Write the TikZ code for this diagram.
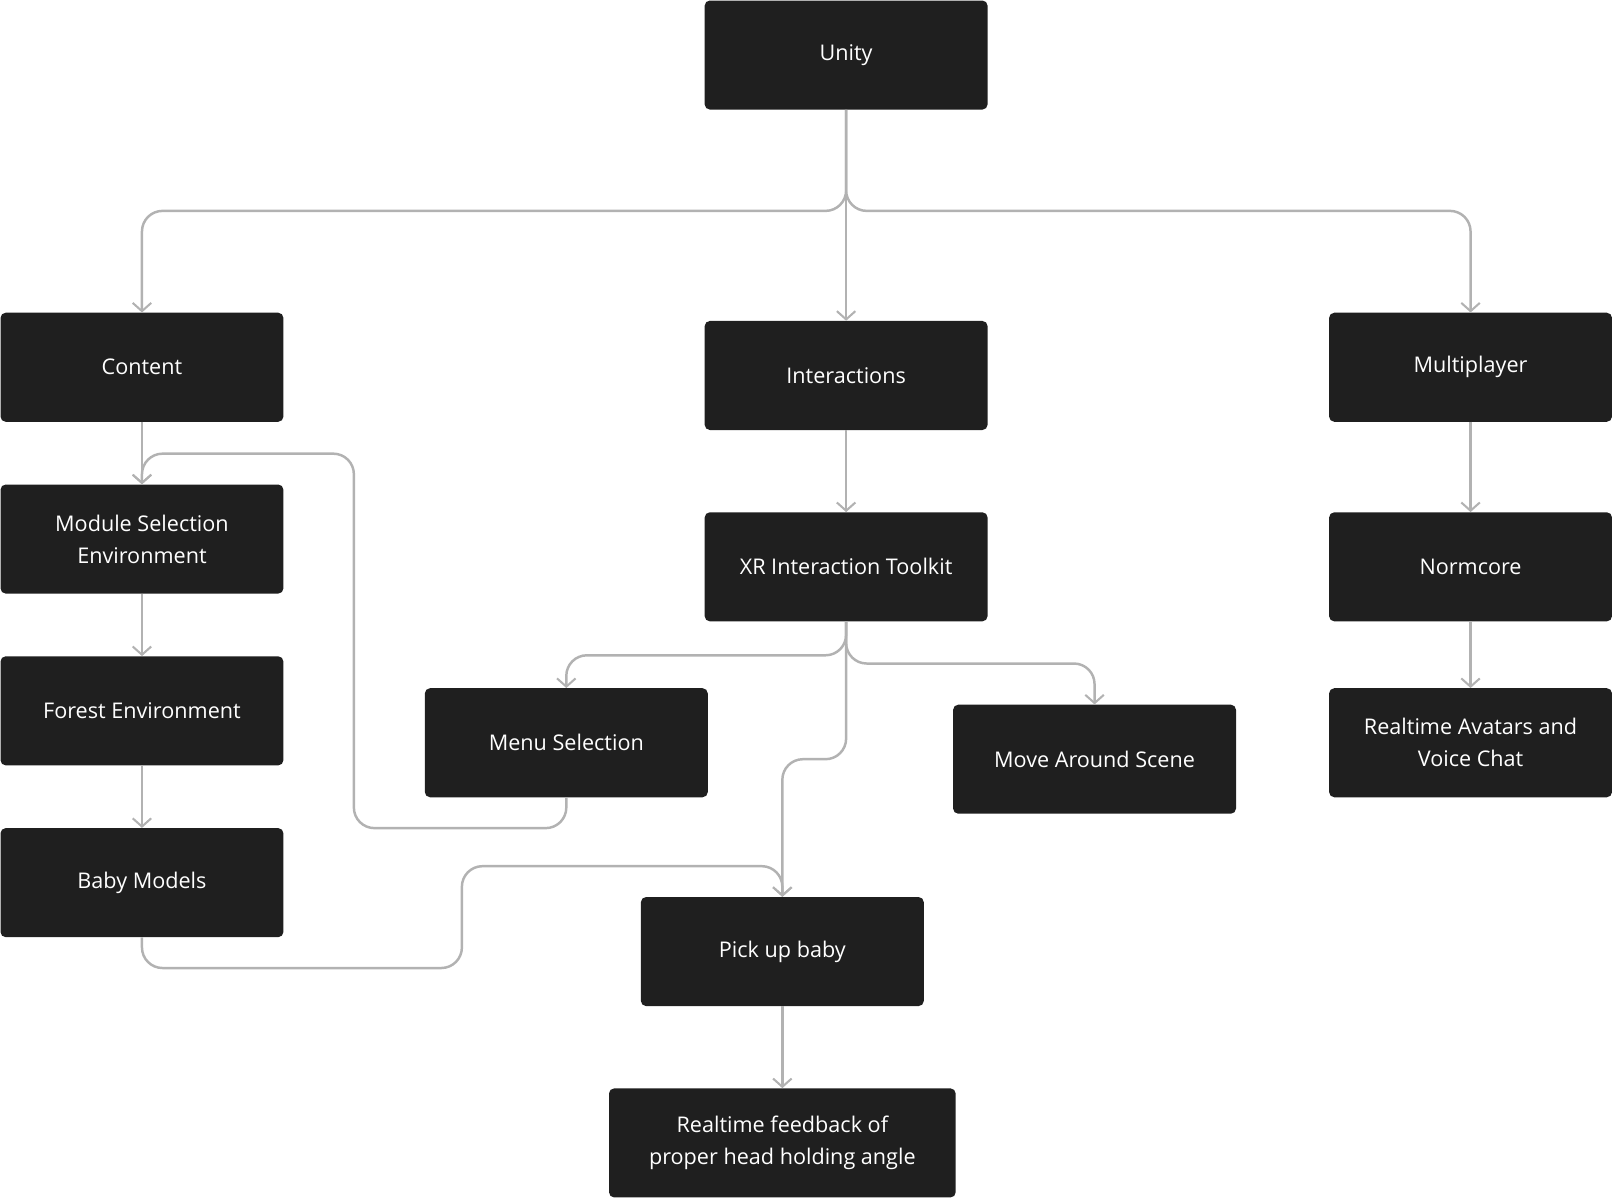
\documentclass[tikz,border=0pt]{standalone}
\usepackage{fontspec}
\setmainfont{Open Sans}
\usetikzlibrary{arrows.meta}
\begin{document}
\begin{tikzpicture}[x=1pt,y=-1pt,
  box/.style={fill=black!88, draw=none, rounded corners=5pt, minimum width=275pt, minimum height=106pt, text=white, align=center, font=\fontsize{21}{31}\selectfont},
  conn/.style={draw=black!30, line width=2.4pt, rounded corners=20pt, -{Straight Barb[length=8pt,width=18pt,line width=2pt]}},
  plain/.style={draw=black!30, line width=2.4pt, rounded corners=20pt}]
\useasboundingbox (0,0) rectangle (1567,1166);
\node[box] (unity) at (822.5,53.5) {Unity};
\node[box] (content) at (138,357) {Content};
\node[box] (inter) at (822.5,365) {Interactions};
\node[box] (multi) at (1429.5,357) {Multiplayer};
\node[box] (module) at (138,524) {Module Selection\\Environment};
\node[box] (xr) at (822.5,551) {XR Interaction Toolkit};
\node[box] (norm) at (1429.5,551) {Normcore};
\node[box] (forest) at (138,691) {Forest Environment};
\node[box] (menu) at (550.5,722) {Menu Selection};
\node[box] (move) at (1064,738) {Move Around Scene};
\node[box] (avatars) at (1429.5,722) {Realtime Avatars and\\Voice Chat};
\node[box] (babym) at (138,858) {Baby Models};
\node[box] (pick) at (760.5,925) {Pick up baby};
\node[box, minimum width=337pt] (fb) at (760.5,1111) {Realtime feedback of\\proper head holding angle};

\draw[conn] (unity.south) -- (822.5,205) -| (content.north);
\draw[conn] (unity.south) -- (inter.north);
\draw[conn] (unity.south) -- (822.5,205) -| (multi.north);
\draw[conn] (content.south) -- (module.north);
\draw[conn] (menu.south) -- (550.5,805) -| (344,441) -| (module.north);
\draw[conn] (module.south) -- (forest.north);
\draw[conn] (forest.south) -- (babym.north);
\draw[conn] (inter.south) -- (xr.north);
\draw[conn] (xr.south) -- (822.5,637) -| (menu.north);
\draw[conn] (xr.south) -- (822.5,645) -| (move.north);
\draw[conn] (xr.south) -- (822.5,738) -| (pick.north);
\draw[conn] (babym.south) -- (138,941) -| (449,842) -| (pick.north);
\draw[conn] (multi.south) -- (norm.north);
\draw[conn] (norm.south) -- (avatars.north);
\draw[conn] (pick.south) -- (fb.north);
\end{tikzpicture}
\end{document}
